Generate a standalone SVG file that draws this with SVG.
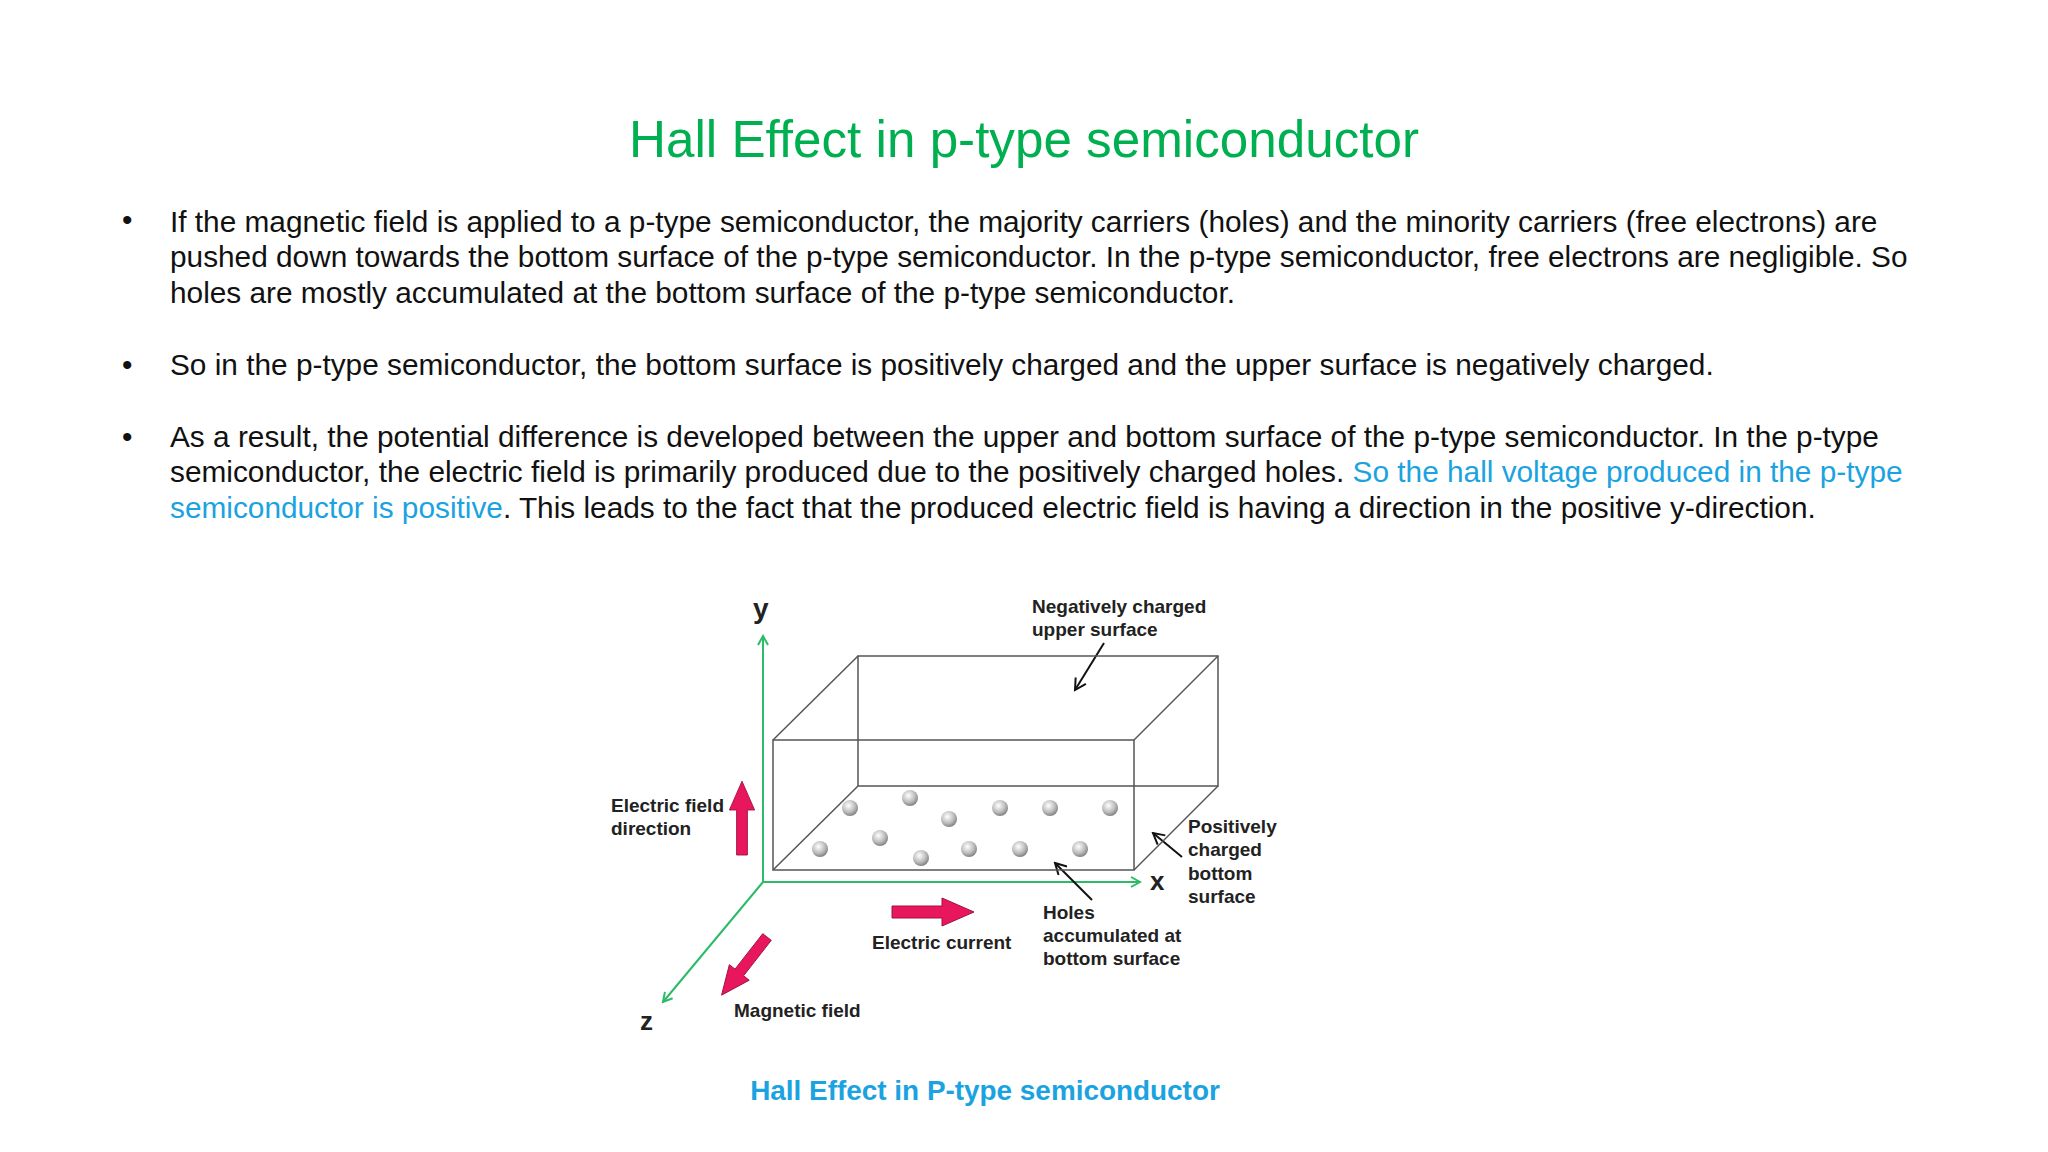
<svg xmlns="http://www.w3.org/2000/svg" width="2048" height="1152" viewBox="0 0 2048 1152">
<style>
.b{font-family:"Liberation Sans",Arial,sans-serif;font-size:29.8px;fill:#111}
.h{fill:#1aa3e0}
.l{font-family:"Liberation Sans",Arial,sans-serif;font-size:19px;font-weight:bold;fill:#222}
.ax{stroke:#2dbb6a;stroke-width:2;fill:none}
.bx{stroke:#555;stroke-width:1.5;fill:none}
.pt{stroke:#111;stroke-width:2;fill:none}
</style>
<defs>
<marker id="ga" markerWidth="12" markerHeight="12" refX="10" refY="6" orient="auto" markerUnits="userSpaceOnUse"><path d="M1,1 L10,6 L1,11" fill="none" stroke="#2dbb6a" stroke-width="2"/></marker>
<marker id="ka" markerWidth="14" markerHeight="14" refX="12" refY="7" orient="auto" markerUnits="userSpaceOnUse"><path d="M1,1 L12,7 L1,13" fill="none" stroke="#111" stroke-width="2"/></marker>
<radialGradient id="ball" cx="0.4" cy="0.35" r="0.7"><stop offset="0" stop-color="#fff"/><stop offset="0.6" stop-color="#bbb"/><stop offset="1" stop-color="#777"/></radialGradient>
<path id="rarrow" d="M0,-6 L50,-6 L50,-14 L82,0 L50,14 L50,6 L0,6 Z" fill="#e8175d" stroke="#a01040" stroke-width="1"/>
</defs>
<rect width="2048" height="1152" fill="#fff"/>
<text x="1024" y="157" text-anchor="middle" font-family="Liberation Sans,Arial,sans-serif" font-size="51.2" fill="#00b050">Hall Effect in p-type semiconductor</text>
<g class="b">
<text x="122" y="230">•</text><text x="122" y="375">•</text><text x="122" y="447">•</text>
<text x="170" y="232">If the magnetic field is applied to a p-type semiconductor, the majority carriers (holes) and the minority carriers (free electrons) are</text>
<text x="170" y="267">pushed down towards the bottom surface of the p-type semiconductor. In the p-type semiconductor, free electrons are negligible. So</text>
<text x="170" y="303">holes are mostly accumulated at the bottom surface of the p-type semiconductor.</text>
<text x="170" y="375">So in the p-type semiconductor, the bottom surface is positively charged and the upper surface is negatively charged.</text>
<text x="170" y="447">As a result, the potential difference is developed between the upper and bottom surface of the p-type semiconductor. In the p-type</text>
<text x="170" y="482">semiconductor, the electric field is primarily produced due to the positively charged holes. <tspan class="h">So the hall voltage produced in the p-type</tspan></text>
<text x="170" y="518"><tspan class="h">semiconductor is positive</tspan>. This leads to the fact that the produced electric field is having a direction in the positive y-direction.</text>
</g>
<g id="connectors">
<line class="ax" x1="763" y1="882" x2="763" y2="636" marker-end="url(#ga)"/>
<line class="ax" x1="763" y1="882" x2="1140" y2="882" marker-end="url(#ga)"/>
<line class="ax" x1="763" y1="882" x2="663" y2="1002" marker-end="url(#ga)"/>
<line class="pt" x1="1104" y1="643" x2="1075" y2="690" marker-end="url(#ka)"/>
<line class="pt" x1="1182" y1="857" x2="1153" y2="833" marker-end="url(#ka)"/>
<line class="pt" x1="1092" y1="900" x2="1055" y2="863" marker-end="url(#ka)"/>
</g>
<g id="box">
<rect class="bx" x="858" y="656" width="360" height="130"/>
<rect class="bx" x="773" y="740" width="361" height="130"/>
<line class="bx" x1="773" y1="740" x2="858" y2="656"/>
<line class="bx" x1="1134" y1="740" x2="1218" y2="656"/>
<line class="bx" x1="773" y1="870" x2="858" y2="786"/>
<line class="bx" x1="1134" y1="870" x2="1218" y2="786"/>
</g>
<g id="holes" fill="url(#ball)">
<circle cx="850" cy="808" r="8"/><circle cx="910" cy="798" r="8"/><circle cx="949" cy="819" r="8"/><circle cx="1000" cy="808" r="8"/><circle cx="1050" cy="808" r="8"/><circle cx="1110" cy="808" r="8"/>
<circle cx="820" cy="849" r="8"/><circle cx="880" cy="838" r="8"/><circle cx="921" cy="858" r="8"/><circle cx="969" cy="849" r="8"/><circle cx="1020" cy="849" r="8"/><circle cx="1080" cy="849" r="8"/>
</g>
<g id="arrows">
<use href="#rarrow" transform="translate(742,855) rotate(-90) scale(0.9)"/>
<use href="#rarrow" transform="translate(892,912) scale(1)"/>
<use href="#rarrow" transform="translate(767,937) rotate(128) scale(0.9)"/>
</g>
<g id="labels" class="l">
<text x="753" y="618" font-size="28">y</text>
<text x="1150" y="890" font-size="26">x</text>
<text x="640" y="1030" font-size="26">z</text>
<text x="1032" y="613">Negatively charged</text><text x="1032" y="636">upper surface</text>
<text x="611" y="812">Electric field</text><text x="611" y="835">direction</text>
<text x="1188" y="833">Positively</text><text x="1188" y="856">charged</text><text x="1188" y="880">bottom</text><text x="1188" y="903">surface</text>
<text x="1043" y="919">Holes</text><text x="1043" y="942">accumulated at</text><text x="1043" y="965">bottom surface</text>
<text x="872" y="949">Electric current</text>
<text x="734" y="1017">Magnetic field</text>
</g>
<text x="985" y="1100" text-anchor="middle" font-family="Liberation Sans,Arial,sans-serif" font-size="27.9" font-weight="bold" fill="#1aa3e0">Hall Effect in P-type semiconductor</text>
</svg>
